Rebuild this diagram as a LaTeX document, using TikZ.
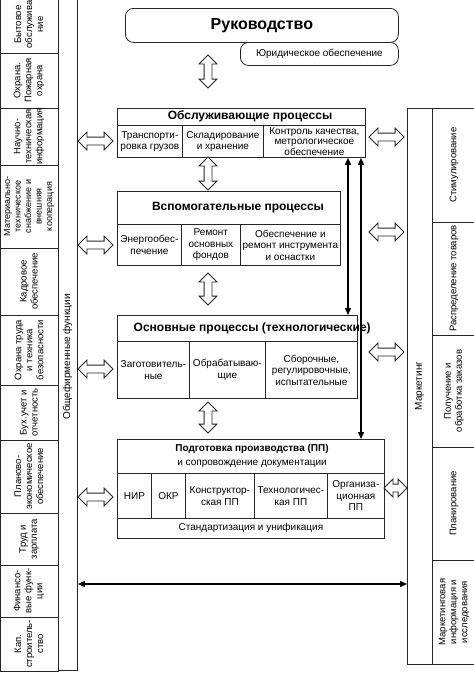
\documentclass[tikz,border=0pt]{standalone}
\usepackage{fontspec}
\setmainfont{Liberation Sans}
\usetikzlibrary{arrows.meta, positioning, shapes.arrows}

\begin{document}
\begin{tikzpicture}[x=1pt, y=-1pt, >={Triangle[length=7pt, width=6pt]},
  font=\fontsize{10}{11.5}\selectfont, line width=0.8pt, draw=black!85,
  box/.style={draw, inner sep=0pt, anchor=north west, align=center},
  title/.style={font=\fontsize{12}{14}\selectfont\bfseries},
  side/.style={draw, rotate=90, inner sep=0pt, align=center, font=\fontsize{9.5}{11}\selectfont},
  harrow/.style={double arrow, draw, fill=white, inner xsep=0pt, inner ysep=3.5pt,
    double arrow head extend=5pt, minimum height=#1},
  varrow/.style={harrow=#1, rotate=90}]
  \useasboundingbox (0,0) rectangle (474,675);

  % management
  \node[box, rounded corners=8pt, minimum width=158, minimum height=23, fill=white] (legal) at (240,42) {Юридическое обеспечение};
  \node[box, rounded corners=8pt, minimum width=273, minimum height=34, fill=white,
    font=\fontsize{16}{18}\selectfont\bfseries] (boss) at (125,8) {Руководство};

  % service processes
  \node[box, minimum width=248, minimum height=49] (srv) at (117,108) {};
  \node[title] at (250,116.5) {Обслуживающие процессы};
  \node[box, minimum width=65, minimum height=32] (srv1) at (117,125) {Транспорти-\\ровка грузов};
  \node[box, minimum width=81, minimum height=32] (srv2) at (182,125) {Складирование\\и хранение};
  \node[box, minimum width=102, minimum height=32, font=\fontsize{10}{10.5}\selectfont] (srv3) at (263,125) {Контроль качества,\\метрологическое\\обеспечение};

  % auxiliary processes
  \node[box, minimum width=223, minimum height=74] (aux) at (117,191) {};
  \node[title] at (238,207.5) {Вспомогательные процессы};
  \node[box, minimum width=64, minimum height=41] (aux1) at (117,224) {Энергообес-\\печение};
  \node[box, minimum width=59, minimum height=41] (aux2) at (181,224) {Ремонт\\основных\\фондов};
  \node[box, minimum width=100, minimum height=41] (aux3) at (240,224) {Обеспечение и\\ремонт инструмента\\и оснастки};

  % main processes
  \node[box, minimum width=240, minimum height=83] (main) at (117,315) {};
  \node[title, anchor=west] at (130,328) {Основные процессы (технологические)};
  \node[box, minimum width=72, minimum height=57] (main1) at (117,341) {Заготовитель-\\ные};
  \node[box, minimum width=76, minimum height=57] (main2) at (189,341) {Обрабатываю-\\щие};
  \node[box, minimum width=92, minimum height=57] (main3) at (265,341) {Сборочные,\\регулировочные,\\испытательные};

  % preparation of production
  \node[box, minimum width=267, minimum height=99] (prep) at (117,439) {};
  \node[align=center, font=\fontsize{10}{13.5}\selectfont] at (252,456) {\textbf{Подготовка производства (ПП)}\\и сопровождение документации};
  \node[box, minimum width=34, minimum height=45] (prep1) at (117,473) {НИР};
  \node[box, minimum width=34, minimum height=45] (prep2) at (151,473) {ОКР};
  \node[box, minimum width=69, minimum height=45] (prep3) at (185,473) {Конструктор-\\ская ПП};
  \node[box, minimum width=73, minimum height=45] (prep4) at (254,473) {Технологичес-\\кая ПП};
  \node[box, minimum width=57, minimum height=45] (prep5) at (327,473) {Организа-\\ционная\\ПП};
  \node[box, minimum width=267, minimum height=20] (prep6) at (117,518) {Стандартизация и унификация};

  % company-wide functions
  \node[draw, inner sep=0pt, minimum width=19, minimum height=676, anchor=south west] (ofs) at (58,671) {};
  \node[rotate=90] (oft) at (67.5,357) {Общефирменные функции};
  \node[side, minimum width=57, minimum height=58] (lc1) at (29,24.5) {Бытовое\\обслужива\\ние};
  \node[side, minimum width=55, minimum height=58] (lc2) at (29,80.5) {Охрана.\\Пожарная\\охрана};
  \node[side, minimum width=57, minimum height=58] (lc3) at (29,136.5) {Научно-\\техническая\\информация};
  \node[side, minimum width=83, minimum height=58, font=\fontsize{9}{10.5}\selectfont] (lc4) at (29,206.5) {Материально-\\техническое\\снабжение и\\внешняя\\кооперация};
  \node[side, minimum width=67, minimum height=58] (lc5) at (29,281.5) {Кадровое\\обеспечение};
  \node[side, minimum width=70, minimum height=58] (lc6) at (29,350) {Охрана труда\\и техника\\безопасности};
  \node[side, minimum width=55, minimum height=58] (lc7) at (29,412.5) {Бух.учет и\\отчетность};
  \node[side, minimum width=73, minimum height=58] (lc8) at (29,476.5) {Планово-\\экономическое\\обеспечение};
  \node[side, minimum width=52, minimum height=58] (lc9) at (29,539) {Труд и\\зарплата};
  \node[side, minimum width=52, minimum height=58] (lc10) at (29,591) {Финансо-\\вые функ-\\ции};
  \node[side, minimum width=54, minimum height=58] (lc11) at (29,644) {Кап.\\строитель-\\ство};

  % marketing
  \node[box, minimum width=25, minimum height=556] (mkt) at (407,108) {};
  \node[rotate=90] (mktt) at (419.5,386) {Маркетинг};
  \node[side, minimum width=114, minimum height=44] (rc1) at (454,165) {Стимулирование};
  \node[side, minimum width=113, minimum height=44] (rc2) at (454,278.5) {Распределение товаров};
  \node[side, minimum width=112, minimum height=44] (rc3) at (454,391) {Получение и\\обработка заказов};
  \node[side, minimum width=113, minimum height=44] (rc4) at (454,503.5) {Планирование};
  \node[side, minimum width=104, minimum height=44] (rc5) at (454,612) {Маркетинговая\\информация и\\исследования};

  % hollow arrows
  \node[varrow=33] (va0) at (208,71.5) {};
  \node[varrow=33] (va1) at (208,173.5) {};
  \node[varrow=32] (va2) at (208,289) {};
  \node[varrow=31] (va3) at (208,417.5) {};
  \node[harrow=35] (la1) at (95.5,141) {};
  \node[harrow=35] (la2) at (95.5,245) {};
  \node[harrow=35] (la3) at (95.5,369) {};
  \node[harrow=35] (la4) at (95.5,497) {};
  \node[harrow=35] (ra1) at (386.5,137) {};
  \node[harrow=35] (ra2) at (386.5,232) {};
  \node[harrow=35] (ra3) at (386.5,352) {};
  \node[harrow=23] (ra4) at (395.5,488) {};

  % feedback lines
  \coordinate (qa) at (348,0);
  \coordinate (qb) at (361,0);
  \coordinate (lb) at (0,584);
  \draw[<->, line width=1.4pt, black] (srv.south-|qa) -- (main.north-|qa);
  \draw[<->, line width=1.4pt, black] (srv.south-|qb) -- (prep.north-|qb);
  \draw[<->, line width=1.4pt, black] (ofs.east|-lb) -- (mkt.west|-lb);
\end{tikzpicture}
\end{document}
